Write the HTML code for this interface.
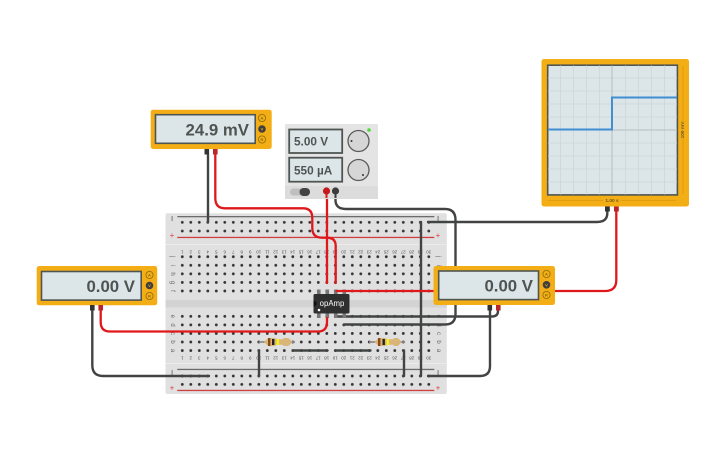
<!DOCTYPE html>
<html><head><meta charset="utf-8"><style>
html,body{margin:0;padding:0;background:#fff}
svg{display:block;filter:blur(.3px)}
text{font-family:"Liberation Sans",sans-serif}
.w{fill:none;stroke-linecap:round}
.r{stroke:#e0181c;stroke-width:2.3}
.k{stroke:#424444;stroke-width:2.4}
.m{font-weight:bold;font-size:16.8px;fill:#4f5452;text-anchor:end}
.s{font-weight:bold;font-size:11.8px;fill:#4f5452}
.l{font-size:4.5px;fill:#555;text-anchor:middle}
.b{fill:none;stroke:#8a6a10;stroke-width:.8}
.t{font-size:4px;font-weight:bold;fill:#8a6a10;text-anchor:middle}
</style></head><body>
<svg width="725" height="453" viewBox="0 0 725 453" xmlns="http://www.w3.org/2000/svg">
<defs>
<pattern id="v" x="178.05" y="252.45" width="8.5" height="8.56" patternUnits="userSpaceOnUse"><circle cx="4.25" cy="4.25" r="1.4" fill="#333"/></pattern>
<pattern id="v2" x="178.05" y="312.05" width="8.5" height="8.56" patternUnits="userSpaceOnUse"><circle cx="4.25" cy="4.25" r="1.4" fill="#333"/></pattern>
<pattern id="p1" x="178.05" y="218.05" width="8.5" height="8.7" patternUnits="userSpaceOnUse"><circle cx="4.25" cy="4.25" r="1.4" fill="#333"/></pattern>
<pattern id="p2" x="178.05" y="371.75" width="8.5" height="8.4" patternUnits="userSpaceOnUse"><circle cx="4.25" cy="4.25" r="1.4" fill="#333"/></pattern>
</defs>

<!-- breadboard -->
<rect x="165.5" y="213.3" width="281.3" height="180.7" rx="2" fill="#e0e0e0"/>
<rect x="165.5" y="244" width="281.3" height="1" fill="#ebebeb"/>
<rect x="165.5" y="363" width="281.3" height="1" fill="#ebebeb"/>
<rect x="165.5" y="300" width="281.3" height="7.5" fill="#d3d3d3"/>
<rect x="177.3" y="216" width="257" height="1.3" fill="#6c6c6c"/>
<rect x="177.3" y="236.8" width="257" height="1.3" fill="#cf3f3f"/>
<rect x="177.3" y="368.8" width="257" height="1.3" fill="#6c6c6c"/>
<rect x="177.3" y="389.8" width="257" height="1.3" fill="#cf3f3f"/>
<rect x="178.05" y="218.05" width="255" height="17.4" fill="url(#p1)"/>
<rect x="178.05" y="252.45" width="255" height="42.8" fill="url(#v)"/>
<rect x="178.05" y="312.05" width="255" height="42.8" fill="url(#v2)"/>
<rect x="178.05" y="371.75" width="255" height="16.8" fill="url(#p2)"/>

<rect x="171.5" y="216" width="1.2" height="5" fill="#888"/><rect x="437.5" y="216" width="1.2" height="5" fill="#888"/>
<rect x="171.5" y="370" width="1.2" height="5" fill="#888"/><rect x="437.5" y="370" width="1.2" height="5" fill="#888"/>
<g font-size="8" fill="#d8433f" text-anchor="middle">
<text x="172" y="238">+</text><text x="438" y="238">+</text>
<text x="172" y="390.5">+</text><text x="438" y="390.5">+</text>
</g>

<!-- number labels -->
<g class="l">
<g transform="translate(0,250.5)"><text transform="translate(182.3) rotate(180)">1</text><text transform="translate(190.8) rotate(180)">2</text><text transform="translate(199.3) rotate(180)">3</text><text transform="translate(207.8) rotate(180)">4</text><text transform="translate(216.3) rotate(180)">5</text><text transform="translate(224.8) rotate(180)">6</text><text transform="translate(233.3) rotate(180)">7</text><text transform="translate(241.8) rotate(180)">8</text><text transform="translate(250.3) rotate(180)">9</text><text transform="translate(258.8) rotate(180)">10</text><text transform="translate(267.3) rotate(180)">11</text><text transform="translate(275.8) rotate(180)">12</text><text transform="translate(284.3) rotate(180)">13</text><text transform="translate(292.8) rotate(180)">14</text><text transform="translate(301.3) rotate(180)">15</text><text transform="translate(309.8) rotate(180)">16</text><text transform="translate(318.3) rotate(180)">17</text><text transform="translate(326.8) rotate(180)">18</text><text transform="translate(335.3) rotate(180)">19</text><text transform="translate(343.8) rotate(180)">20</text><text transform="translate(352.3) rotate(180)">21</text><text transform="translate(360.8) rotate(180)">22</text><text transform="translate(369.3) rotate(180)">23</text><text transform="translate(377.8) rotate(180)">24</text><text transform="translate(386.3) rotate(180)">25</text><text transform="translate(394.8) rotate(180)">26</text><text transform="translate(403.3) rotate(180)">27</text><text transform="translate(411.8) rotate(180)">28</text><text transform="translate(420.3) rotate(180)">29</text><text transform="translate(428.8) rotate(180)">30</text></g>
<g transform="translate(0,356.5)"><text transform="translate(182.3) rotate(180)">1</text><text transform="translate(190.8) rotate(180)">2</text><text transform="translate(199.3) rotate(180)">3</text><text transform="translate(207.8) rotate(180)">4</text><text transform="translate(216.3) rotate(180)">5</text><text transform="translate(224.8) rotate(180)">6</text><text transform="translate(233.3) rotate(180)">7</text><text transform="translate(241.8) rotate(180)">8</text><text transform="translate(250.3) rotate(180)">9</text><text transform="translate(258.8) rotate(180)">10</text><text transform="translate(267.3) rotate(180)">11</text><text transform="translate(275.8) rotate(180)">12</text><text transform="translate(284.3) rotate(180)">13</text><text transform="translate(292.8) rotate(180)">14</text><text transform="translate(301.3) rotate(180)">15</text><text transform="translate(309.8) rotate(180)">16</text><text transform="translate(318.3) rotate(180)">17</text><text transform="translate(326.8) rotate(180)">18</text><text transform="translate(335.3) rotate(180)">19</text><text transform="translate(343.8) rotate(180)">20</text><text transform="translate(352.3) rotate(180)">21</text><text transform="translate(360.8) rotate(180)">22</text><text transform="translate(369.3) rotate(180)">23</text><text transform="translate(377.8) rotate(180)">24</text><text transform="translate(386.3) rotate(180)">25</text><text transform="translate(394.8) rotate(180)">26</text><text transform="translate(403.3) rotate(180)">27</text><text transform="translate(411.8) rotate(180)">28</text><text transform="translate(420.3) rotate(180)">29</text><text transform="translate(428.8) rotate(180)">30</text></g>
</g>
<g font-size="6" fill="#666" text-anchor="middle">
<text transform="translate(171,256.7) rotate(90)">j</text><text transform="translate(171,265.3) rotate(90)">i</text><text transform="translate(171,274) rotate(90)">h</text><text transform="translate(171,282.5) rotate(90)">g</text><text transform="translate(171,291) rotate(90)">f</text>
<text transform="translate(171,316.3) rotate(90)">e</text><text transform="translate(171,325) rotate(90)">d</text><text transform="translate(171,333.5) rotate(90)">c</text><text transform="translate(171,342) rotate(90)">b</text><text transform="translate(171,350.5) rotate(90)">a</text>
<text transform="translate(437,256.7) rotate(90)">j</text><text transform="translate(437,265.3) rotate(90)">i</text><text transform="translate(437,274) rotate(90)">h</text><text transform="translate(437,282.5) rotate(90)">g</text><text transform="translate(437,291) rotate(90)">f</text>
<text transform="translate(437,316.3) rotate(90)">e</text><text transform="translate(437,325) rotate(90)">d</text><text transform="translate(437,333.5) rotate(90)">c</text><text transform="translate(437,342) rotate(90)">b</text><text transform="translate(437,350.5) rotate(90)">a</text>
</g>

<!-- resistors -->
<g>
<path d="M258.7 342H295M369 342H405" stroke="#8c8c8c" stroke-width="1.8"/>
<path d="M264 342l4-4h7l1.5 1.2h6l1.5-1.2h4l1 .5 3.5 3.5-3.5 3.5-1 .5h-4l-1.5-1.2h-6l-1.5 1.2h-7z" fill="#d9b578"/>
<path d="M374.5 342l4-4h7l1.5 1.2h6l1.5-1.2h3l1 .5 3 3.5-3 3.5-1 .5h-3l-1.5-1.2h-6l-1.5 1.2h-7z" fill="#d9b578"/>
<rect x="268" y="338" width="2.4" height="8" fill="#8a4a18"/><rect x="272" y="339" width="2.4" height="6" fill="#222"/><rect x="276.5" y="339" width="2.6" height="6" fill="#f5f018"/>
<rect x="378" y="338" width="2.4" height="8" fill="#8a4a18"/><rect x="382.5" y="339" width="2.4" height="6" fill="#222"/><rect x="386.5" y="339" width="2.6" height="6" fill="#f5f018"/>
</g>

<!-- dark wires -->
<g class="w k">
<path d="M293 350.5H327.5"/>
<path d="M335.5 350.5H370.5"/>
<path d="M259 350.5V376"/>
<path d="M404 350.5V376"/>
<path d="M421 222V376"/>
<path d="M208 155V222"/>
<path d="M92.3 311V365Q92.3 376 103 376H209"/>
<path d="M428 376H480Q490 376 490 366V311"/>
<path d="M498 311Q498 316.5 492 316.5H336"/>
<path d="M344 324.5H445Q455.5 324.5 455.5 314V220Q455.5 209 445 209H346Q335.5 209 335.5 200V197"/>
<path d="M428 222H597Q607.3 222 607.3 213V211"/>
</g>

<!-- op amp -->
<g fill="#777">
<rect x="317" y="289.5" width="3.6" height="6"/><rect x="325.5" y="289.5" width="3.6" height="6"/><rect x="334" y="289.5" width="3.6" height="6"/><rect x="342.5" y="289.5" width="3.6" height="6"/>
<rect x="317" y="312" width="3.6" height="6"/><rect x="325.5" y="312" width="3.6" height="6"/><rect x="334" y="312" width="3.6" height="6"/><rect x="342.5" y="312" width="3.6" height="6"/>
</g>
<rect x="313.5" y="294" width="36" height="19.5" rx="1.5" fill="#2f2f2f"/>
<path d="M313.5 300.5a3 3 0 0 1 0 6z" fill="#111"/>
<circle cx="319" cy="310" r="1.3" fill="#fff"/>
<text x="332" y="306" font-size="7.8" fill="#fff" text-anchor="middle">opAmp</text>

<!-- red wires -->
<g class="w r">
<path d="M215.3 155V198Q215.3 208.3 225 208.3H303Q312.3 208.3 312.3 218V228Q312.3 237.7 322 237.7H327Q335.7 237.7 335.7 246V283"/>
<path d="M327 197V283"/>
<path d="M336.5 291H434"/>
<path d="M555 291H605Q616.3 291 616.3 280V211"/>
<path d="M100.7 311V322Q100.7 331.5 110 331.5H318Q327 331.5 327 322V318"/>
</g>

<!-- top meter -->
<rect x="150.7" y="109.7" width="121" height="39.3" rx="2.5" fill="#f3ae16"/>
<rect x="155.5" y="114.7" width="99.7" height="28.6" fill="#dce6e9" stroke="#4f5552" stroke-width="1.6"/>
<text x="249" y="135.5" class="m">24.9 mV</text>
<circle cx="262" cy="118" r="3.6" class="b"/><circle cx="262" cy="129" r="3.8" fill="#3f3f3f"/><circle cx="262" cy="139.5" r="3.6" class="b"/>
<text x="262" y="119.5" class="t">A</text><text x="262" y="130.5" class="t" style="fill:#f3ae16">V</text><text x="262" y="141" class="t">R</text>
<rect x="204.5" y="149" width="4.6" height="5.5" fill="#333"/><rect x="213" y="149" width="4.6" height="5.5" fill="#b8262a"/>

<!-- left meter -->
<rect x="36.7" y="266" width="120.5" height="39.3" rx="2.5" fill="#f3ae16"/>
<rect x="41.5" y="271.5" width="99.7" height="28.6" fill="#dce6e9" stroke="#4f5552" stroke-width="1.6"/>
<text x="135" y="292" class="m">0.00 V</text>
<circle cx="149.5" cy="275" r="3.6" class="b"/><circle cx="149.5" cy="285.5" r="3.8" fill="#3f3f3f"/><circle cx="149.5" cy="296" r="3.6" class="b"/>
<text x="149.5" y="276.5" class="t">A</text><text x="149.5" y="287" class="t" style="fill:#f3ae16">V</text><text x="149.5" y="297.5" class="t">R</text>
<rect x="90" y="305" width="4.6" height="5.5" fill="#333"/><rect x="98.4" y="305" width="4.6" height="5.5" fill="#b8262a"/>

<!-- right meter -->
<rect x="433.5" y="266" width="121.5" height="39" rx="2.5" fill="#f3ae16"/>
<rect x="438.7" y="271" width="99.8" height="28.6" fill="#dce6e9" stroke="#4f5552" stroke-width="1.6"/>
<text x="533" y="291.7" class="m">0.00 V</text>
<circle cx="546.5" cy="274" r="3.6" class="b"/><circle cx="546.5" cy="284.8" r="3.8" fill="#3f3f3f"/><circle cx="546.5" cy="295" r="3.6" class="b"/>
<text x="546.5" y="275.5" class="t">A</text><text x="546.5" y="286.3" class="t" style="fill:#f3ae16">V</text><text x="546.5" y="296.5" class="t">R</text>
<rect x="487.5" y="305" width="4.6" height="5.5" fill="#333"/><rect x="496" y="305" width="4.6" height="5.5" fill="#b8262a"/>

<!-- power supply -->
<rect x="285" y="124" width="93" height="75" rx="1.5" fill="#e4e4e4"/>
<rect x="285" y="186" width="93" height="13" fill="#dcdcdc"/>
<rect x="289.2" y="129.5" width="53" height="23.5" fill="#dce6e9" stroke="#4f5552" stroke-width="1.8"/>
<rect x="289.2" y="157.7" width="53" height="24" fill="#dce6e9" stroke="#4f5552" stroke-width="1.8"/>
<text x="294" y="145.5" class="s">5.00 V</text>
<text x="294" y="174.5" class="s">550 µA</text>
<circle cx="358.5" cy="141" r="10.5" fill="#d6d6d6" stroke="#5a5a5a" stroke-width="1.3"/>
<circle cx="358.5" cy="170" r="10.5" fill="#d6d6d6" stroke="#5a5a5a" stroke-width="1.3"/>
<circle cx="351.5" cy="141" r="1" fill="#333"/><circle cx="363" cy="175" r="1" fill="#333"/>
<circle cx="369" cy="130" r="1.8" fill="#4ddb3a"/>
<rect x="290" y="188.5" width="20" height="7" rx="3.5" fill="#bfbfbf"/>
<rect x="299.5" y="188" width="10.5" height="8" rx="4" fill="#444"/>
<rect x="325.5" y="193" width="2" height="5" fill="#e0181c"/><rect x="334.5" y="193" width="2" height="5" fill="#3c3c3c"/>
<circle cx="326.5" cy="191" r="3.6" fill="#c4191d"/>
<circle cx="335.5" cy="191" r="3.6" fill="#3c3c3c"/>

<!-- oscilloscope -->
<rect x="541.5" y="59" width="147.5" height="147.5" rx="2.5" fill="#f3ae16"/>
<rect x="547.7" y="65.2" width="129.7" height="129.7" fill="#dce6e9" stroke="#4f5552" stroke-width="1.6"/>
<g stroke="#ccd6d9" stroke-width=".8">
<path d="M560.6 65.5V194.5M573.5 65.5V194.5M586.5 65.5V194.5M599.5 65.5V194.5M625.5 65.5V194.5M638.5 65.5V194.5M651.5 65.5V194.5M664.5 65.5V194.5"/>
<path d="M548 78H677M548 91H677M548 104H677M548 117H677M548 143H677M548 156H677M548 169H677M548 182H677"/>
</g>
<path d="M612 65.5V194.5M548 130H677" stroke="#b4bec0" stroke-width="1"/>
<path d="M548 129.5H612V97.5H677" fill="none" stroke="#3f8fd2" stroke-width="2"/>
<text x="612" y="202" font-size="4.8" font-weight="bold" fill="#6b5a20" text-anchor="middle">1.00 s</text>
<text transform="translate(684,130) rotate(-90)" font-size="4.8" font-weight="bold" fill="#6b5a20" text-anchor="middle">100 mV</text>
<path d="M548 200.5H603M621 200.5H676M683 66V123M683 138V194" stroke="#d99a10" stroke-width=".8" fill="none"/>
<rect x="605" y="206.5" width="4.8" height="5" fill="#333"/><rect x="614" y="206.5" width="4.8" height="5" fill="#b8262a"/>
</svg>
</body></html>
